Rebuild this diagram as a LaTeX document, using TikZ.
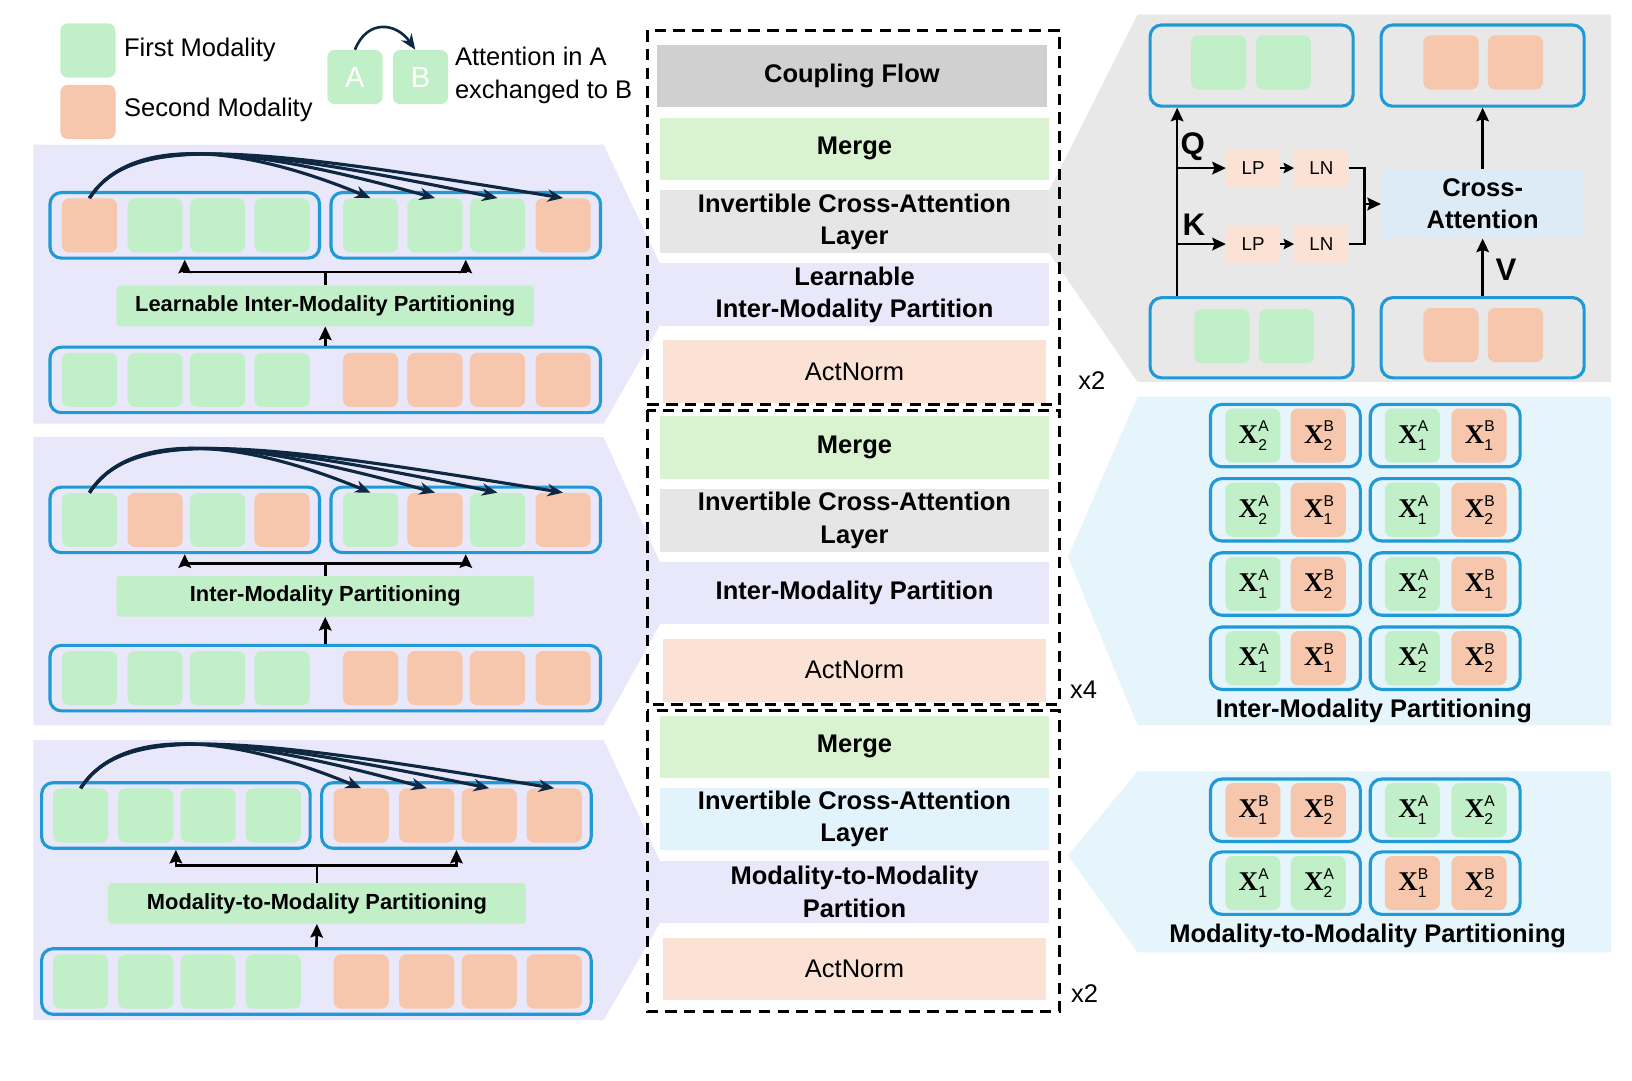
\documentclass[tikz,border=0pt]{standalone}
\usepackage{fontspec}
\setmainfont{Liberation Sans}
\newfontfamily\xfont{Liberation Serif}
\usetikzlibrary{arrows.meta}

% 色
\definecolor{tokgreen}{HTML}{C1F0C8}
\definecolor{tokorange}{HTML}{F6C6AD}
\definecolor{grpblue}{HTML}{1F9AD6}
\definecolor{arcnavy}{HTML}{0E2841}
\definecolor{panellav}{HTML}{E8E8FA}
\definecolor{panelgrey}{HTML}{E8E8E8}
\definecolor{panelblue}{HTML}{E6F4FC}
\definecolor{flowgrey}{HTML}{D0D0D0}
\definecolor{mergegreen}{HTML}{D9F2D0}
\definecolor{layergrey}{HTML}{E6E6E6}
\definecolor{layerblue}{HTML}{E3F3FB}
\definecolor{normpeach}{HTML}{FBE2D5}
\definecolor{attnblue}{HTML}{DDEBF7}

\newcommand{\bigfont}{\fontsize{24.5}{31}\selectfont}
\newcommand{\xab}[2]{{\xfont\bfseries X}\rlap{\raisebox{0.42em}{\fontsize{15}{15}\selectfont #1}}\raisebox{-0.25em}{\fontsize{15}{15}\selectfont #2}}

\tikzset{
   tok/.style={rectangle, rounded corners=7pt, minimum width=53pt, minimum height=52pt, inner sep=0pt, font=\fontsize{26}{26}\selectfont},
   grp/.style={draw=grpblue, line width=3pt, rounded corners=11pt, inner sep=0pt},
   rowbox/.style={rectangle, minimum width=374pt, minimum height=60pt, inner sep=0pt, align=center, font=\bigfont\bfseries},
   partlab/.style={fill=tokgreen, rounded corners=3pt, minimum width=401pt, minimum height=39pt, inner sep=0pt, font=\fontsize{21}{24}\selectfont\bfseries},
   lpbox/.style={fill=normpeach, minimum width=52pt, minimum height=37pt, inner sep=0pt, font=\fontsize{18}{18}\selectfont},
   arr/.style={line width=2.5pt, -{Stealth[length=13pt, width=12pt, inset=2pt]}},
   sarr/.style={line width=2pt, -{Stealth[length=10pt, width=10pt, inset=1.5pt]}},
   attn/.style={draw=arcnavy, line width=3pt, -{Stealth[length=15pt, width=12pt]}},
   dashbox/.style={line width=2.8pt, dash pattern=on 11pt off 7pt},
}

\begin{document}
\begin{tikzpicture}[x=1pt, y=-1pt]
   \useasboundingbox (0,0) rectangle (1568,1038);

   % 背景のパネル
   \fill[panellav] (32,139) -- (580,139) -- (634,253) -- (634,313) -- (580,407) -- (32,407) -- cycle;
   \fill[panellav] (32,420) -- (580,420) -- (634,540) -- (634,600) -- (580,697) -- (32,697) -- cycle;
   \fill[panellav] (32,711) -- (580,711) -- (634,827) -- (634,887) -- (580,980) -- (32,980) -- cycle;
   \fill[panelgrey] (1548,14) -- (1093,14) -- (1008,183) -- (1008,243) -- (1093,367) -- (1548,367) -- cycle;
   \fill[panelblue] (1548,381) -- (1093,381) -- (1026,535) -- (1093,697) -- (1548,697) -- cycle;
   \fill[panelblue] (1548,741) -- (1093,741) -- (1026,822) -- (1093,915) -- (1548,915) -- cycle;

   % 凡例
   \node[tok, fill=tokgreen] (lgg) at (84.5,48.5) {};
   \node[tok, fill=tokorange] (lgo) at (84.5,107.5) {};
   \node[anchor=west, inner sep=0pt, font=\bigfont] (lggt) at (119,48) {First Modality};
   \node[anchor=west, inner sep=0pt, font=\bigfont] (lgot) at (119,106) {Second Modality};
   \node[tok, fill=tokgreen, text=white, font=\fontsize{28}{28}\selectfont] (lga) at (341,74) {A};
   \node[tok, fill=tokgreen, text=white, font=\fontsize{28}{28}\selectfont] (lgb) at (404,74) {B};
   \draw[attn, line width=2.5pt] (lga.north) .. controls +(12,-30) and +(-18,-26) .. ([xshift=-5pt]lgb.north);
   \node[anchor=west, inner sep=0pt, align=left, font=\bigfont] (lgat) at (437,72.5) {Attention in A\\exchanged to B};

   % 中央の列
   \node[rowbox, fill=flowgrey, minimum width=375pt] (flow) at (818.5,73) {Coupling Flow};
   \node[rowbox, fill=mergegreen] (merge1) at (821,143) {Merge};
   \node[rowbox, fill=layergrey] (ica1) at (821,213) {Invertible Cross-Attention\\Layer};
   \node[rowbox, fill=panellav] (part1) at (821,283) {Learnable\\Inter-Modality Partition};
   \node[rowbox, fill=normpeach, minimum width=368pt, font=\bigfont] (norm1) at (821,357) {ActNorm};

   \node[rowbox, fill=mergegreen] (merge2) at (821,430) {Merge};
   \node[rowbox, fill=layergrey] (ica2) at (821,500) {Invertible Cross-Attention\\Layer};
   \node[rowbox, fill=panellav] (part2) at (821,570) {Inter-Modality Partition};
   \node[rowbox, fill=normpeach, minimum width=368pt, font=\bigfont] (norm2) at (821,644) {ActNorm};

   \node[rowbox, fill=mergegreen] (merge3) at (821,717.5) {Merge};
   \node[rowbox, fill=layerblue] (ica3) at (821,787) {Invertible Cross-Attention\\Layer};
   \node[rowbox, fill=panellav] (part3) at (821,857) {Modality-to-Modality\\Partition};
   \node[rowbox, fill=normpeach, minimum width=368pt, font=\bigfont] (norm3) at (821,931) {ActNorm};

   \draw[dashbox] (622,29) rectangle (1018,389);
   \draw[dashbox] (622,394) rectangle (1018,677);
   \draw[dashbox] (622,683) rectangle (1018,972);
   \node[font=\bigfont] (rep1) at (1049,366) {x2};
   \node[font=\bigfont] (rep2) at (1041,663) {x4};
   \node[font=\bigfont] (rep3) at (1042,955) {x2};

   % 左のパネル1
   \node[grp, minimum width=259pt, minimum height=63pt] (p1l) at (177.5,216.5) {};
   \node[grp, minimum width=259pt, minimum height=63pt] (p1r) at (447.5,216.5) {};
   \node[grp, minimum width=529pt, minimum height=63pt] (p1b) at (312.5,365) {};
   \foreach \col/\x [count=\i] in {orange/86,green/149,green/209,green/271,green/356,green/418,green/478,orange/541}
      \node[tok, fill=tok\col] (p1t\i) at (\x,216.5) {};
   \foreach \col/\x [count=\i] in {green/86,green/149,green/209,green/271,orange/356,orange/418,orange/478,orange/541}
      \node[tok, fill=tok\col] (p1s\i) at (\x,365) {};
   \node[partlab] (p1lab) at (312.5,294) {Learnable Inter-Modality Partitioning};
   \foreach \j in {5,...,8}
      \draw[attn] (p1t1.north) .. controls +(40,-62) and (235,140) .. (p1t\j.north);
   \draw[arr] (p1b.north) -- (p1lab.south);
   \draw[arr] (p1lab.north) -- ++(0,-13) -| (p1l.south);
   \draw[arr] (p1lab.north) -- ++(0,-13) -| (p1r.south);

   % 左のパネル2
   \node[grp, minimum width=259pt, minimum height=63pt] (p2l) at (177.5,499.5) {};
   \node[grp, minimum width=259pt, minimum height=63pt] (p2r) at (447.5,499.5) {};
   \node[grp, minimum width=529pt, minimum height=63pt] (p2b) at (312.5,651.5) {};
   \foreach \col/\x [count=\i] in {green/86,orange/149,green/209,orange/271,green/356,orange/418,green/478,orange/541}
      \node[tok, fill=tok\col] (p2t\i) at (\x,499.5) {};
   \foreach \col/\x [count=\i] in {green/86,green/149,green/209,green/271,orange/356,orange/418,orange/478,orange/541}
      \node[tok, fill=tok\col] (p2s\i) at (\x,651.5) {};
   \node[partlab] (p2lab) at (312.5,573) {Inter-Modality Partitioning};
   \foreach \j in {5,...,8}
      \draw[attn] (p2t1.north) .. controls +(40,-62) and (235,423) .. (p2t\j.north);
   \draw[arr] (p2b.north) -- (p2lab.south);
   \draw[arr] (p2lab.north) -- ++(0,-12) -| (p2l.south);
   \draw[arr] (p2lab.north) -- ++(0,-12) -| (p2r.south);

   % 左のパネル3
   \node[grp, minimum width=258pt, minimum height=63pt] (p3l) at (169,783.5) {};
   \node[grp, minimum width=259pt, minimum height=63pt] (p3r) at (438.5,783.5) {};
   \node[grp, minimum width=528pt, minimum height=63pt] (p3b) at (304,943) {};
   \foreach \col/\x [count=\i] in {green/77.5,green/140,green/200,green/262.5,orange/347,orange/410,orange/470,orange/532.5}
      \node[tok, fill=tok\col] (p3t\i) at (\x,783.5) {};
   \foreach \col/\x [count=\i] in {green/77.5,green/140,green/200,green/262.5,orange/347,orange/410,orange/470,orange/532.5}
      \node[tok, fill=tok\col] (p3s\i) at (\x,943) {};
   \node[partlab] (p3lab) at (304.5,868) {Modality-to-Modality Partitioning};
   \foreach \j in {5,...,8}
      \draw[attn] (p3t1.north) .. controls +(40,-62) and (226,707) .. (p3t\j.north);
   \draw[arr] (p3b.north) -- (p3lab.south);
   \draw[arr] (p3lab.north) -- ++(0,-17) -| (p3l.south);
   \draw[arr] (p3lab.north) -- ++(0,-17) -| (p3r.south);

   % 右上: Cross-Attention
   \node[grp, minimum width=195pt, minimum height=78pt] (qtop) at (1202.5,63) {};
   \node[grp, minimum width=195pt, minimum height=78pt] (vtop) at (1424.5,63) {};
   \node[grp, minimum width=195pt, minimum height=77pt] (qbot) at (1202.5,324.5) {};
   \node[grp, minimum width=195pt, minimum height=77pt] (vbot) at (1424.5,324.5) {};
   \node[tok, fill=tokgreen] (qt1) at (1171,60) {};
   \node[tok, fill=tokgreen] (qt2) at (1233,60) {};
   \node[tok, fill=tokorange] (vt1) at (1394,60) {};
   \node[tok, fill=tokorange] (vt2) at (1456,60) {};
   \node[tok, fill=tokgreen] (qb1) at (1174,323) {};
   \node[tok, fill=tokgreen] (qb2) at (1236,323) {};
   \node[tok, fill=tokorange] (vb1) at (1394,322) {};
   \node[tok, fill=tokorange] (vb2) at (1456,322) {};

   \node[lpbox] (lpq) at (1204,161.5) {LP};
   \node[lpbox] (lnq) at (1269.5,161.5) {LN};
   \node[lpbox] (lpk) at (1204,234.5) {LP};
   \node[lpbox] (lnk) at (1269.5,234.5) {LN};
   \node[fill=attnblue, minimum width=195pt, minimum height=66pt, inner sep=0pt, align=center, font=\bigfont\bfseries] (cross) at (1424.5,196) {Cross-\\Attention};

   \coordinate (qstem) at ([xshift=-71.5pt]qbot.north);
   \draw[arr] (qstem) -- (qstem |- qtop.south);
   \draw[arr] (qstem |- lpq.west) -- (lpq.west);
   \draw[arr] (qstem |- lpk.west) -- (lpk.west);
   \draw[sarr] (lpq) -- (lnq);
   \draw[sarr] (lpk) -- (lnk);
   \draw[line width=2.5pt] (lnq.east) -- ++(15,0) coordinate (brk) |- (lnk.east);
   \draw[arr] (cross.west -| brk) -- (cross.west);
   \draw[arr] (cross.north) -- (vtop.south);
   \draw[arr] (vbot.north) -- (cross.south);
   \node[font=\fontsize{30}{30}\selectfont\bfseries] (qlab) at (1146,141) {Q};
   \node[font=\fontsize{30}{30}\selectfont\bfseries] (klab) at (1147,216) {K};
   \node[font=\fontsize{30}{30}\selectfont\bfseries] (vlab) at (1447,259) {V};

   % 右中: Inter-Modality
   \foreach \ga/\ob/\gc/\od [count=\r] in {2/2/1/1,2/1/1/2,1/2/2/1,1/1/2/2} {
      \pgfmathsetmacro\yy{418.5+(\r-1)*71.3}
      \node[grp, minimum width=144pt, minimum height=60pt] (ig\r) at (1235,\yy) {};
      \node[grp, minimum width=144pt, minimum height=60pt] (ih\r) at (1388.5,\yy) {};
      \node[tok, fill=tokgreen] (ix\r) at (1203.7,\yy) {\xab{A}{\ga}};
      \node[tok, fill=tokorange] (iy\r) at (1266.5,\yy) {\xab{B}{\ob}};
      \node[tok, fill=tokgreen] (iz\r) at (1357,\yy) {\xab{A}{\gc}};
      \node[tok, fill=tokorange] (iw\r) at (1421,\yy) {\xab{B}{\od}};
   }
   \node[font=\bigfont\bfseries] (imlab) at (1320,683) {Inter-Modality Partitioning};

   % 右下: Modality-to-Modality
   \node[grp, minimum width=144pt, minimum height=60pt] (mg1) at (1235,778.5) {};
   \node[grp, minimum width=144pt, minimum height=60pt] (mh1) at (1388.5,778.5) {};
   \node[grp, minimum width=144pt, minimum height=60pt] (mg2) at (1235,848.5) {};
   \node[grp, minimum width=144pt, minimum height=60pt] (mh2) at (1388.5,848.5) {};
   \node[tok, fill=tokorange] (mx1) at (1203.7,778.5) {\xab{B}{1}};
   \node[tok, fill=tokorange] (my1) at (1266.5,778.5) {\xab{B}{2}};
   \node[tok, fill=tokgreen] (mz1) at (1357,778.5) {\xab{A}{1}};
   \node[tok, fill=tokgreen] (mw1) at (1421,778.5) {\xab{A}{2}};
   \node[tok, fill=tokgreen] (mx2) at (1203.7,848.5) {\xab{A}{1}};
   \node[tok, fill=tokgreen] (my2) at (1266.5,848.5) {\xab{A}{2}};
   \node[tok, fill=tokorange] (mz2) at (1357,848.5) {\xab{B}{1}};
   \node[tok, fill=tokorange] (mw2) at (1421,848.5) {\xab{B}{2}};
   \node[font=\bigfont\bfseries] (mmlab) at (1314,899) {Modality-to-Modality Partitioning};

\end{tikzpicture}
\end{document}
